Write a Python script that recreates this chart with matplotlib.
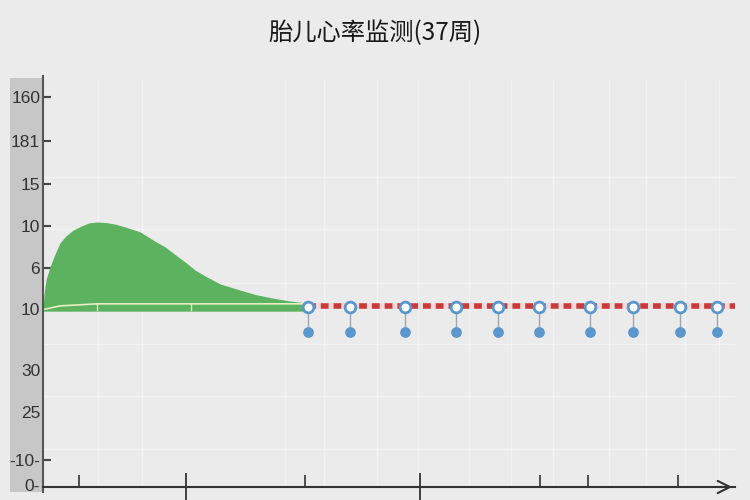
import matplotlib
matplotlib.use('Agg')
import matplotlib.pyplot as plt
from matplotlib.patches import Rectangle

plt.rcParams['font.family'] = ['Noto Sans CJK SC', 'DejaVu Sans']

# green curve (early part of the trace)
curve_x = [0, 0.14, 0.43, 1.01, 1.73, 2.46, 3.32, 4.34, 5.49, 6.65, 7.80, 8.96, 10.40, 11.85,
           14.02, 16.18, 17.63, 18.79, 20.52, 21.97, 23.70, 25.58, 28.47, 30.64, 33.24, 35.69,
           38.15, 38.29]
curve_y = [43.2, 47.2, 50.9, 54.1, 57.2, 60.0, 61.7, 63.1, 64.1, 64.9, 65.1, 65.0, 64.6, 63.9,
           62.7, 60.4, 59.0, 57.5, 55.3, 53.3, 51.6, 49.9, 48.4, 47.3, 46.4, 45.7,
           45.2, 44.5]
curve_base = 43.2

# thin inner line
inner_x = [0.29, 2.46, 7.8, 20, 38.3]
inner_y = [43.7, 44.5, 45.0, 45.0, 45.0]
inner_marks = [7.8, 21.4]

# sample points
pts_x = [38.3, 44.4, 52.3, 59.7, 65.8, 71.7, 79.0, 85.3, 92.1, 97.4]
pts_top = [44.2] * len(pts_x)
pts_low = [38.1] * len(pts_x)
base_line_y = 44.4

ytick_pos = [95.8, 85.0, 74.4, 64.1, 53.8, 43.7, 28.7, 18.4, 6.6, 0.5]
ytick_lab = ['160', '181', '15', '10', '6', '10', '30', '25', '-10-', '0-']
no_tick = [5, 6, 7, 9]

xmajor = [20.7, 54.5]
xminor = [5.2, 37.9, 71.8, 78.8, 91.8]

bg = '#ebebeb'
fig = plt.figure(figsize=(7.5, 5), dpi=100, facecolor=bg)
fig.patches.append(Rectangle((10/750, 8/500), 33/750, 414/500, transform=fig.transFigure,
                             facecolor='#c7c7c7', edgecolor='none', zorder=0))

ax = fig.add_axes([43/750, 13/500, 692/750, 407/500])
ax.set_zorder(2)
ax.patch.set_alpha(0)
ax.set_xlim(0, 100)
ax.set_ylim(0, 100)

# faint grid
for gx in [8, 14.3, 35, 40.6, 48.3, 54.2, 61.6, 67.6, 73.7, 81.8, 87.1, 92.8, 97.7]:
    ax.axvline(gx, color='#f3f3f3', lw=1, zorder=0)
for gy in [76.2, 63.4, 50.1, 35.1, 22.4, 9.3]:
    ax.axhline(gy, color='#f3f3f3', lw=1, zorder=0)

ax.fill_between(curve_x, curve_base, curve_y, color='#5cb25f', lw=0, zorder=2)
ax.plot(inner_x, inner_y, color='#e6efc4', lw=1.2, zorder=3)
for m in inner_marks:
    ax.plot([m, m], [43.4, 45.0], color='#e6efc4', lw=1, zorder=3)

ax.plot([pts_x[0], 100], [base_line_y, base_line_y], color='#f2d9d9', lw=4, zorder=3)
ax.plot([pts_x[0], 100], [base_line_y, base_line_y], color='#c93a3a', lw=4,
        dashes=(1.4, 0.9), zorder=4)

for px, pt, pl in zip(pts_x, pts_top, pts_low):
    ax.plot([px, px], [pl, pt], color='#9aa7b3', lw=1, zorder=4)
ax.scatter(pts_x, pts_low, s=45, color='#5b97cc', zorder=5)
ax.scatter(pts_x, pts_top, s=60, facecolor='white', edgecolor='#5b97cc', lw=2, zorder=6)

ax.set_yticks(ytick_pos)
ax.set_yticklabels(ytick_lab, fontsize=12.5, color='#333333')
for lab in ax.get_yticklabels():
    lab.set_family(['Liberation Sans', 'DejaVu Sans'])
ax.tick_params(axis='y', direction='in', length=6, width=1.5, color='#444444', pad=2)
for i, t in enumerate(ax.yaxis.get_major_ticks()):
    if i in no_tick:
        t.tick1line.set_visible(False)

ax.set_xticks(xmajor)
ax.set_xticks(xminor, minor=True)
ax.set_xticklabels([])
ax.tick_params(axis='x', which='major', direction='inout', length=20, width=1.3, color='#333333')
ax.tick_params(axis='x', which='minor', direction='in', length=9, width=1.2, color='#333333')

for s in ['top', 'right']:
    ax.spines[s].set_visible(False)
ax.spines['left'].set_color('#555555')
ax.spines['left'].set_linewidth(1.5)
ax.spines['left'].set_bounds(-1.2, 101)
ax.spines['bottom'].set_color('#333333')
ax.spines['bottom'].set_linewidth(1.5)
ax.annotate('', xy=(100, 0), xytext=(97, 0), annotation_clip=False,
            arrowprops=dict(arrowstyle='->', color='#333333', lw=1.5, mutation_scale=22))

fig.text(0.5, 1 - 33/500, '胎儿心率监测(37周)', ha='center', va='center', fontsize=17.5,
         color='#1a1a1a', fontweight='medium')

fig.savefig('out.png', dpi=100, facecolor=bg)
